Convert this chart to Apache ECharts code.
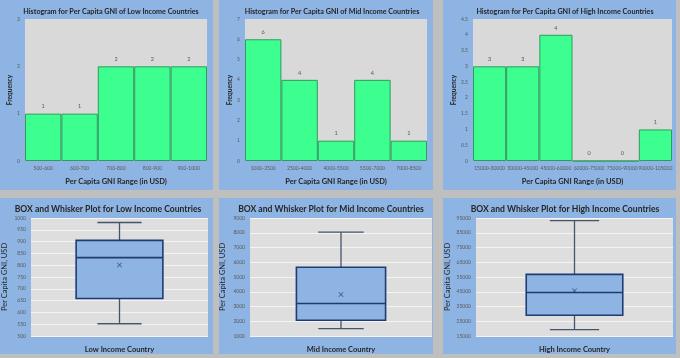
<!DOCTYPE html>
<html><head><meta charset="utf-8">
<script src="https://cdn.jsdelivr.net/npm/echarts@6/dist/echarts.min.js"></script>
<style>html,body{margin:0;padding:0;background:#bfbfbf}#c{width:680px;height:358px}</style>
</head><body><div id="c"></div>
<script>
// ---- data ----
const lowBins = ['500-600','600-700','700-800','800-900','900-1000'];
const lowFreq = [1,1,2,2,2];
const midBins = ['1000-2500','2500-4000','4000-5500','5500-7000','7000-8500'];
const midFreq = [6,4,1,4,1];
const highBins = ['15000-30000','30000-45000','45000-60000','60000-75000','75000-90000','90000-105000'];
const highFreq = [3,3,4,0,0,1];
// [min, Q1, median, Q3, max]
const lowBox = [552,659,832,905,981];
const lowMean = 801;
const midBox = [1500,2068,3205,5659,8045];
const midMean = 3818;
const highBox = [19300,29100,44500,56800,93200];
const highMean = 45700;
const boxCats = ['Low Income Country','Mid Income Country','High Income Country'];
const histTitles = ['Histogram for Per Capita GNI of Low Income Countries','Histogram for Per Capita GNI of Mid Income Countries','Histogram for Per Capita GNI of High Income Countries'];
const boxTitles = ['BOX and Whisker Plot for Low Income Countries','BOX and Whisker Plot for Mid Income Countries','BOX and Whisker Plot for High Income Countries'];

const FONT = 'Lato';
const panelBlue = '#8eb4e3';
const panels = [[0,0,213,190],[219,0,214,190],[443,0,233,190],[0,198,213,156],[219,198,214,156],[443,198,233,156]];
const grids = [
  {left:25,top:19,width:182,height:142},
  {left:245,top:19,width:182,height:142},
  {left:473,top:19,width:199,height:142},
  {left:30,top:218,width:178,height:118},
  {left:250,top:218,width:182,height:118},
  {left:476,top:218,width:197,height:118}
];
const titleCenters = [[106,3],[327,3],[560,3],[103,200],[326,200],[560,200]];

const chart = echarts.init(document.getElementById('c'), null, {renderer:'canvas'});

const title = [];
for (let i=0;i<6;i++){
  title.push({
    text: i<3 ? histTitles[i] : boxTitles[i-3],
    left: titleCenters[i][0], top: titleCenters[i][1], textAlign:'center',
    textStyle:{fontFamily:FONT, fontWeight:'bold', fontSize: i<3?7.2:8.6, color:'#262626'}
  });
}

const grid = grids.map((g,i)=>Object.assign({show:true, borderWidth:0, backgroundColor: i<3?'#d9d9d9':'#dedede'}, g));

const histCats = [lowBins, midBins, highBins];
const histData = [lowFreq, midFreq, highFreq];
const histMax = [3,7,4.5];
const histInt = [1,1,0.5];

const xAxis = [], yAxis = [], series = [];
for (let i=0;i<3;i++){
  xAxis.push({
    type:'category', gridIndex:i, data:histCats[i],
    axisLine:{show:false}, axisTick:{show:false},
    axisLabel:{interval:0, fontSize:5, color:'#595959', fontFamily:FONT, margin:5},
    name:'Per Capita GNI Range (in USD)', nameLocation:'middle', nameGap:17,
    nameTextStyle:{fontFamily:FONT, fontWeight:'bold', fontSize:7.5, color:'#262626'}
  });
  yAxis.push({
    type:'value', gridIndex:i, min:0, max:histMax[i], interval:histInt[i],
    axisLine:{show:false}, axisTick:{show:false}, splitLine:{show:false},
    axisLabel:{fontSize:5, color:'#595959', fontFamily:FONT, margin:5},
    name:'Frequency', nameLocation:'middle', nameGap: i===2?15:12,
    nameTextStyle:{fontFamily:FONT, fontWeight:'bold', fontSize:6.5, color:'#262626'}
  });
  series.push({
    type:'bar', xAxisIndex:i, yAxisIndex:i, data:histData[i], barCategoryGap:'0%',
    itemStyle:{color:'#3dff90', borderColor:'#2f9b5c', borderWidth:1},
    label:{show:true, position:'top', fontSize:5.5, color:'#595959', fontFamily:FONT, distance:4},
    silent:true
  });
}

const boxes = [lowBox, midBox, highBox];
const means = [lowMean, midMean, highMean];
const boxRange = [[500,1000,50],[1000,9000,1000],[15000,95000,10000]];

function boxRender(params, api){
  const c = api.value(0);
  const pMin = api.coord([c, api.value(1)]);
  const pQ1 = api.coord([c, api.value(2)]);
  const pMed = api.coord([c, api.value(3)]);
  const pQ3 = api.coord([c, api.value(4)]);
  const pMax = api.coord([c, api.value(5)]);
  const band = api.size([1,0])[0];
  const hw = band*0.245, cw = band*0.125, cx = pMed[0];
  const wStyle = {stroke:'#44546a', lineWidth:1.3};
  const bStyle = {stroke:'#1f3b73', lineWidth:1.6};
  return {type:'group', children:[
    {type:'line', shape:{x1:cx,y1:pMax[1],x2:cx,y2:pQ3[1]}, style:wStyle},
    {type:'line', shape:{x1:cx,y1:pQ1[1],x2:cx,y2:pMin[1]}, style:wStyle},
    {type:'line', shape:{x1:cx-cw,y1:pMax[1],x2:cx+cw,y2:pMax[1]}, style:wStyle},
    {type:'line', shape:{x1:cx-cw,y1:pMin[1],x2:cx+cw,y2:pMin[1]}, style:wStyle},
    {type:'rect', shape:{x:cx-hw,y:pQ3[1],width:2*hw,height:pQ1[1]-pQ3[1]}, style:{fill:'#8db4e2', stroke:'#1f3b73', lineWidth:1.6}},
    {type:'line', shape:{x1:cx-hw,y1:pMed[1],x2:cx+hw,y2:pMed[1]}, style:bStyle}
  ]};
}

for (let j=0;j<3;j++){
  const gi = j+3;
  xAxis.push({
    type:'category', gridIndex:gi, data:[boxCats[j]],
    axisLine:{show:false}, axisTick:{show:false}, axisLabel:{show:false},
    name:boxCats[j], nameLocation:'middle', nameGap:10,
    nameTextStyle:{fontFamily:FONT, fontSize:7.5, color:'#262626', fontWeight:'bold'}
  });
  yAxis.push({
    type:'value', gridIndex:gi, min:boxRange[j][0], max:boxRange[j][1], interval:boxRange[j][2],
    axisLine:{show:false}, axisTick:{show:false},
    splitLine:{show:true, lineStyle:{color:'#f4f4f4', width:1}},
    axisLabel:{fontSize:5, color:'#595959', fontFamily:FONT, margin:5, formatter:(v)=>String(v)},
    name:'Per Capita GNI, USD', nameLocation:'middle', nameGap: j===0?22:(j===1?23:24),
    nameTextStyle:{fontFamily:FONT, fontSize:7.5, color:'#262626'}
  });
  const b = boxes[j];
  series.push({
    type:'custom', xAxisIndex:gi, yAxisIndex:gi, renderItem:boxRender,
    encode:{x:0, y:[1,2,3,4,5]},
    data:[[0, b[0], b[1], b[2], b[3], b[4]]], silent:true
  });
  series.push({
    type:'scatter', xAxisIndex:gi, yAxisIndex:gi, data:[[0, means[j]]],
    symbol:'path://M0,1L1,0L5,4L9,0L10,1L6,5L10,9L9,10L5,6L1,10L0,9L4,5Z', symbolSize:5,
    itemStyle:{color:'#1f3b73'}, silent:true, z:5
  });
}

const graphic = panels.map(p=>({type:'rect', shape:{x:p[0],y:p[1],width:p[2],height:p[3]}, style:{fill:panelBlue}, z:-10, silent:true}));

chart.setOption({
  backgroundColor:'#bfbfbf',
  animation:false,
  graphic:graphic,
  title:title, grid:grid, xAxis:xAxis, yAxis:yAxis, series:series
});
</script>
</body></html>
